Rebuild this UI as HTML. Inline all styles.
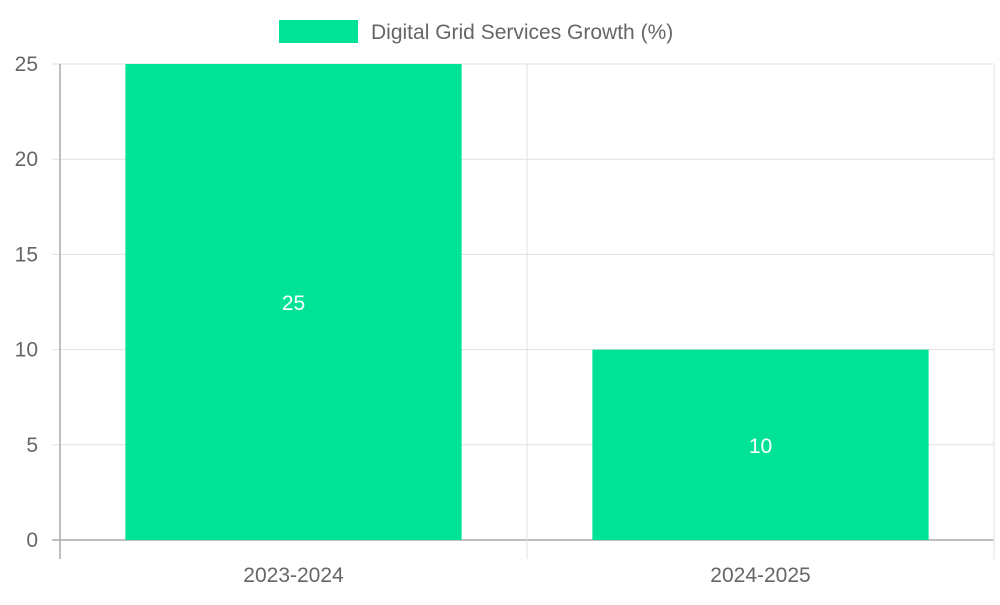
<!DOCTYPE html>
<html><head><meta charset="utf-8"><style>
body{margin:0;background:#fff;font-family:"Liberation Sans",sans-serif}
</style></head><body>
<svg id="c" width="1000" height="600" font-family="Liberation Sans, sans-serif"></svg>
<script>
const categories=["2023-2024","2024-2025"];
const values=[25,10];
const yTicks=[0,5,10,15,20,25];
const svg=document.getElementById('c');
const NS="http://www.w3.org/2000/svg";
const L=60,R=994,T=64,B=540,yMax=25;
const y=v=>B-(v/yMax)*(B-T);
const cw=(R-L)/categories.length;
const x=i=>L+cw*i;
function mk(t,a,p){const e=document.createElementNS(NS,t);for(const k in a)e.setAttribute(k,a[k]);(p||svg).appendChild(e);return e;}
// legend
const lg=mk('g',{});


mk('rect',{x:279,y:20,width:79,height:23,fill:'#00E396'},lg);
const lt=mk('text',{x:371,y:39,'font-size':21,fill:'#666'},lg);lt.textContent="Digital Grid Services Growth (%)";
// grid
yTicks.forEach(v=>{
 const g=mk('line',{x1:L-8,x2:R,y1:y(v),y2:y(v),stroke:v===0?'#aaa':'#e0e0e0','stroke-width':v===0?1.5:1});
 
 
 const t=mk('text',{x:L-22,y:y(v)+7,'font-size':21,fill:'#666','text-anchor':'end'});t.textContent=v;
 
 
});
for(let i=0;i<=categories.length;i++){
 const g=mk('line',{x1:x(i),x2:x(i),y1:T,y2:B+19,stroke:i===0?'#aaa':'#e0e0e0','stroke-width':i===0?1.5:1});
 
 
}
categories.forEach((c,i)=>{
 const bw=cw*0.72,bx=x(i)+(cw-bw)/2;
 const r=mk('rect',{x:bx,y:y(values[i]),width:bw,height:B-y(values[i]),fill:'#00E396'});
 
 
 const vt=mk('text',{x:bx+bw/2,y:(y(values[i])+B)/2+8,'font-size':21,fill:'#fff','text-anchor':'middle'});vt.textContent=values[i];
 
 
 const t=mk('text',{x:x(i)+cw/2,y:582,'font-size':21,fill:'#666','text-anchor':'middle'});t.textContent=c;
 
 
});
</script>
</body></html>
